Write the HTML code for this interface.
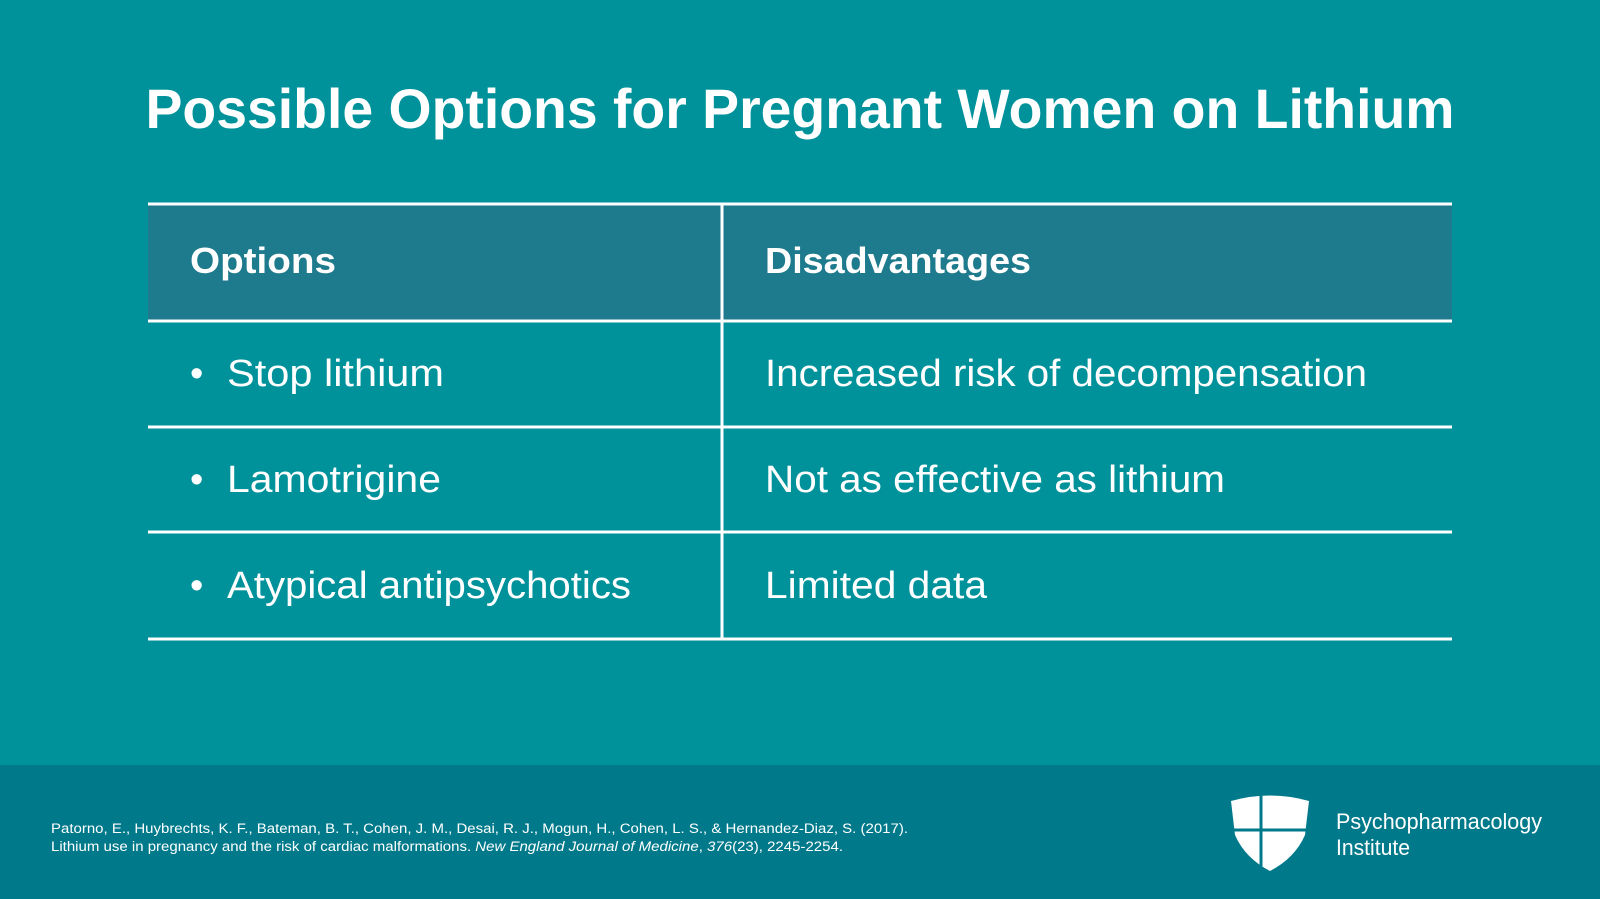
<!DOCTYPE html>
<html><head><meta charset="utf-8"><style>
html,body{margin:0;padding:0;background:#00929b;}
svg{display:block;}
text{font-family:"Liberation Sans",sans-serif;fill:#fff;}
</style></head><body>
<svg width="1600" height="899" viewBox="0 0 1600 899">
<rect x="0" y="0" width="1600" height="899" fill="#00929b"/>
<rect x="0" y="765" width="1600" height="134" fill="#007a8b"/>
<text x="800" y="128" text-anchor="middle" font-size="56" font-weight="bold" textLength="1309" lengthAdjust="spacingAndGlyphs">Possible Options for Pregnant Women on Lithium</text>
<rect x="148" y="204" width="1304" height="117" fill="#1e7a8d"/>
<g stroke="#fff" stroke-width="3">
<line x1="148" y1="204" x2="1452" y2="204"/>
<line x1="148" y1="321" x2="1452" y2="321"/>
<line x1="148" y1="427" x2="1452" y2="427"/>
<line x1="148" y1="532" x2="1452" y2="532"/>
<line x1="148" y1="639" x2="1452" y2="639"/>
<line x1="722" y1="204" x2="722" y2="639"/>
</g>
<text x="190" y="273" font-size="36" font-weight="bold" textLength="146" lengthAdjust="spacingAndGlyphs">Options</text>
<text x="765" y="273" font-size="36" font-weight="bold" textLength="266" lengthAdjust="spacingAndGlyphs">Disadvantages</text>
<g font-size="38">
<text x="190" y="386">•</text>
<text x="227" y="386" textLength="217" lengthAdjust="spacingAndGlyphs">Stop lithium</text>
<text x="190" y="492">•</text>
<text x="227" y="492" textLength="214" lengthAdjust="spacingAndGlyphs">Lamotrigine</text>
<text x="190" y="598">•</text>
<text x="227" y="598" textLength="404" lengthAdjust="spacingAndGlyphs">Atypical antipsychotics</text>
<text x="765" y="386" textLength="602" lengthAdjust="spacingAndGlyphs">Increased risk of decompensation</text>
<text x="765" y="492" textLength="460" lengthAdjust="spacingAndGlyphs">Not as effective as lithium</text>
<text x="765" y="598" textLength="222" lengthAdjust="spacingAndGlyphs">Limited data</text>
</g>
<text x="51" y="833" font-size="13.5" textLength="857" lengthAdjust="spacingAndGlyphs">Patorno, E., Huybrechts, K. F., Bateman, B. T., Cohen, J. M., Desai, R. J., Mogun, H., Cohen, L. S., &amp; Hernandez-Diaz, S. (2017).</text>
<text x="51" y="851" font-size="13.5" textLength="792" lengthAdjust="spacingAndGlyphs">Lithium use in pregnancy and the risk of cardiac malformations. <tspan font-style="italic">New England Journal of Medicine</tspan>, <tspan font-style="italic">376</tspan>(23), 2245-2254.</text>
<path d="M1231 801 Q1270 790 1309 801 L1305 835 Q1295 858 1270 871 Q1245 858 1235 835 Z" fill="#fff"/>
<line x1="1261" y1="795" x2="1261" y2="872" stroke="#007a8b" stroke-width="3"/>
<line x1="1229" y1="830" x2="1311" y2="830" stroke="#007a8b" stroke-width="3"/>
<text x="1336" y="829" font-size="22" textLength="206" lengthAdjust="spacingAndGlyphs">Psychopharmacology</text>
<text x="1336" y="855" font-size="22" textLength="74" lengthAdjust="spacingAndGlyphs">Institute</text>
</svg>
</body></html>
